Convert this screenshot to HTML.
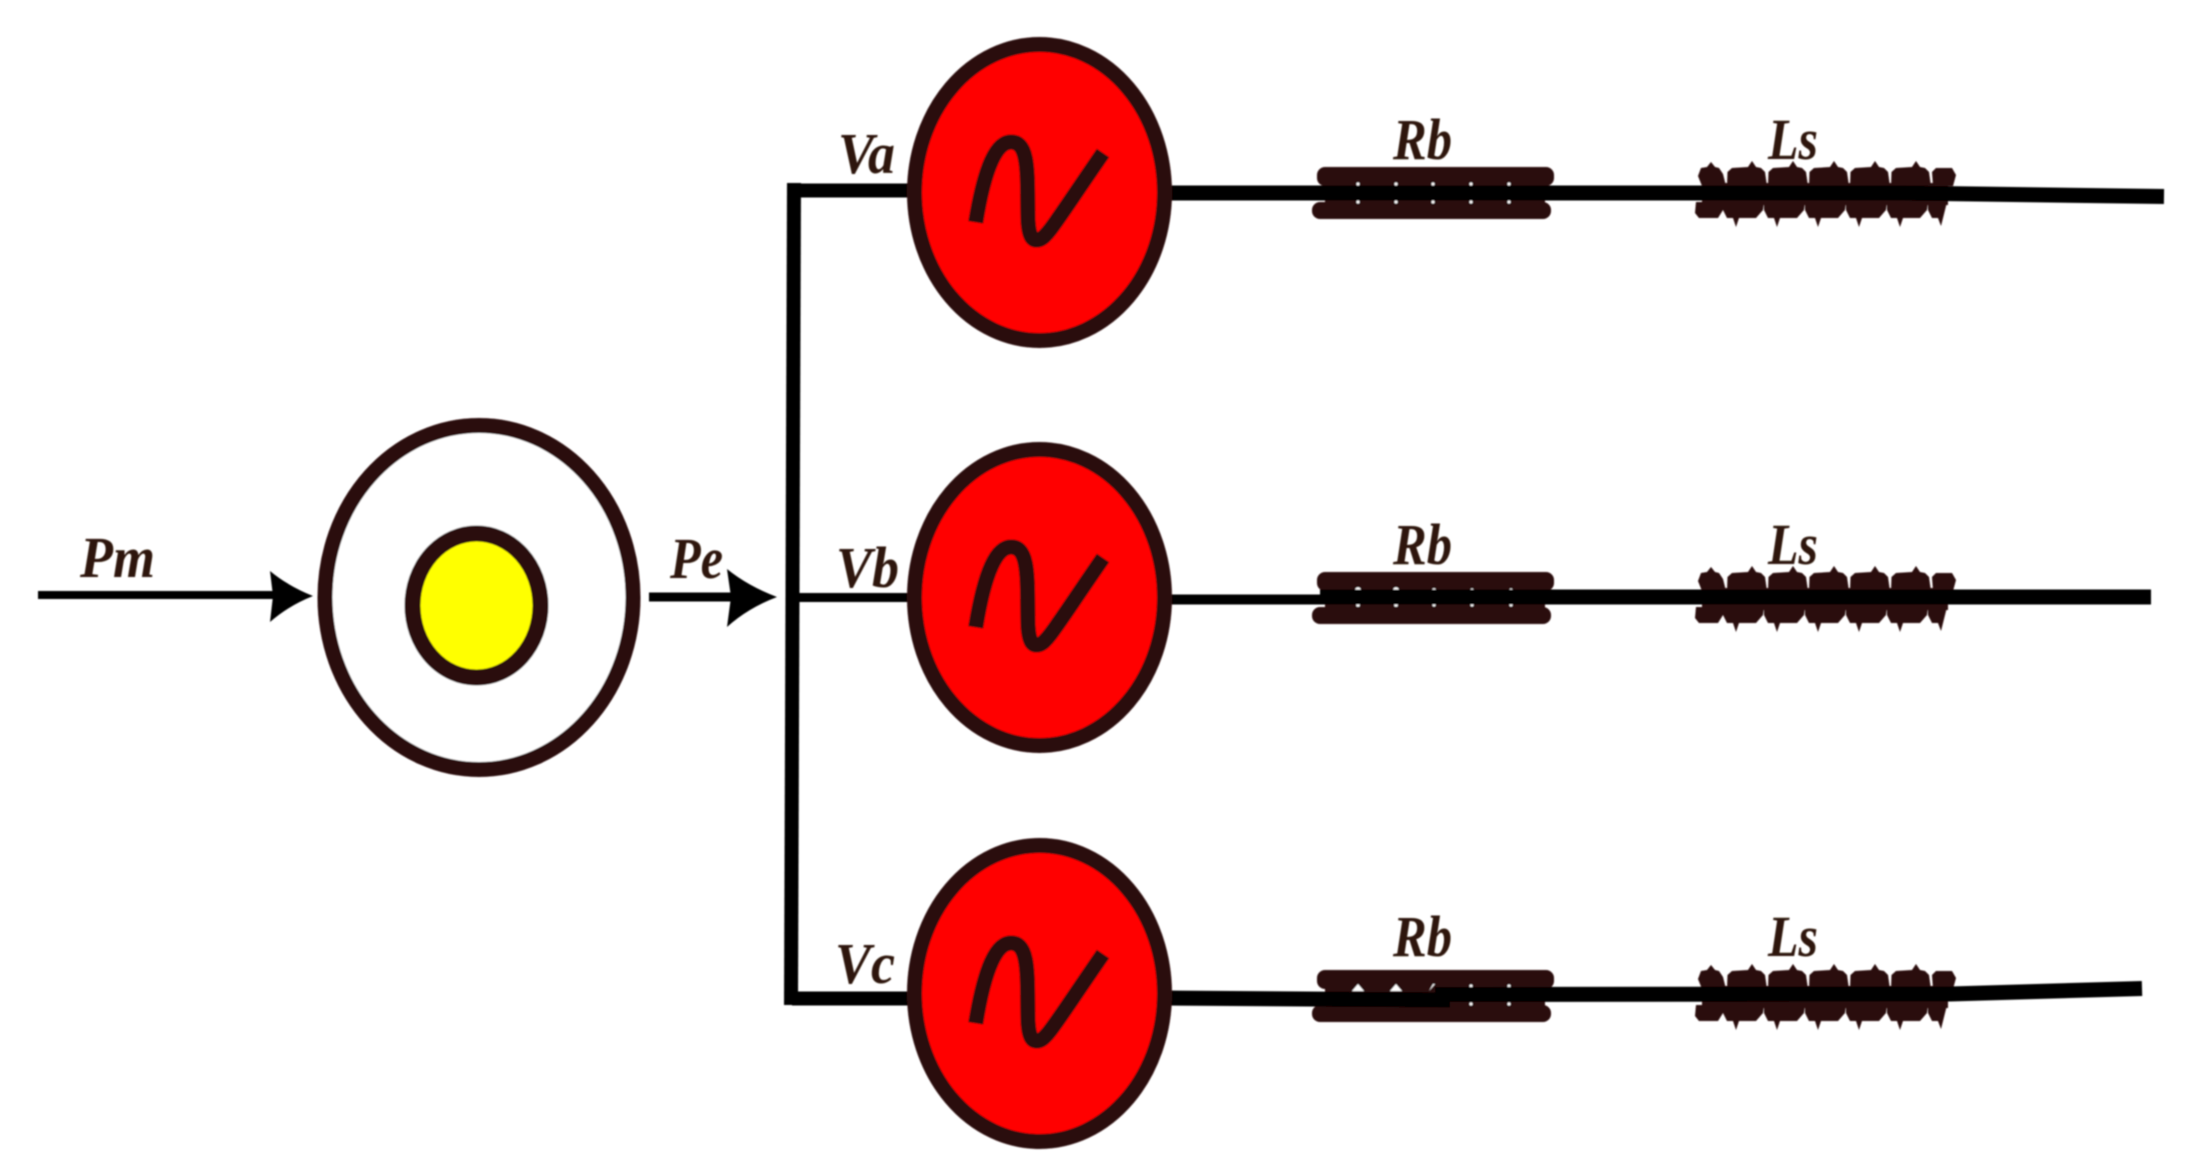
<!DOCTYPE html>
<html>
<head>
<meta charset="utf-8">
<style>
html,body{margin:0;padding:0;background:#fff;width:2207px;height:1171px;overflow:hidden}
svg{display:block}
text{font-family:"Liberation Serif",serif;font-style:italic;font-weight:bold;font-size:58px;fill:#2e1208}
</style>
</head>
<body>
<svg width="2207" height="1171" viewBox="0 0 2207 1171" xmlns="http://www.w3.org/2000/svg">
<defs>
<filter id="b" x="-2%" y="-2%" width="104%" height="104%"><feGaussianBlur stdDeviation="0.8"/></filter>
<polygon id="it" points="-25,186 -24.5,172 -20,168 -4,167 0,161 4,167 9,168 13,172 15,186"/>
<polygon id="ib" points="-13,202 -13,210 -9,218 -3,218 0,227 3,218 20,218 27,210 28,202"/>
<g id="res" fill="#2a0a0a">
<rect x="1317" y="167" width="237" height="19" rx="8"/>
<rect x="1312" y="202" width="239" height="17" rx="8"/>
<rect x="1325" y="184" width="220" height="20"/>
</g>
<g id="ind" fill="#2a0a0a">
<rect x="1702" y="183" width="246" height="22"/>
<polygon points="1702,186 1698,176 1701,168 1707,167 1711,162 1715,167 1719,168 1723,174 1726,186"/>
<use href="#it" x="1752"/><use href="#it" x="1793"/><use href="#it" x="1834"/><use href="#it" x="1875"/><use href="#it" x="1916"/>
<polygon points="1933,186 1932,172 1936,168 1952,168 1956,175 1953,186"/>
<polygon points="1696,202 1695,213 1699,218 1718,218 1723,210 1723,202"/>
<use href="#ib" x="1736"/><use href="#ib" x="1777"/><use href="#ib" x="1818"/><use href="#ib" x="1859"/><use href="#ib" x="1900"/>
<polygon points="1928,202 1928,210 1932,218 1938,218 1941,226 1945,210 1947,202"/>
</g>
<g id="gen">
<ellipse cx="1039.5" cy="192.5" rx="125" ry="148" fill="#ff0000" stroke="#2a0a0a" stroke-width="15"/>
<path d="M975.7 222.3 C985 165 997 142 1011 142 C1030 142 1027 175 1028 220 C1029 238 1033 240 1037 240 C1046 240 1054 224 1103 153" fill="none" stroke="#2a0a0a" stroke-width="15"/>
</g>
</defs>
<rect width="2207" height="1171" fill="#fff"/>
<g filter="url(#b)">
<!-- resistors and inductors -->
<use href="#res"/><use href="#ind"/>
<use href="#res" y="405"/><use href="#ind" y="405"/>
<use href="#res" y="803"/><use href="#ind" y="803"/>

<!-- resistor gaps -->
<g fill="#fff">
<circle cx="1358" cy="184" r="1.5"/><circle cx="1396" cy="184" r="1.5"/><circle cx="1433" cy="184" r="1.5"/><circle cx="1471" cy="184" r="1.5"/><circle cx="1509" cy="184" r="1.5"/>
<circle cx="1358" cy="202" r="1.5"/><circle cx="1396" cy="202" r="1.5"/><circle cx="1433" cy="202" r="1.5"/><circle cx="1471" cy="202" r="1.5"/><circle cx="1509" cy="202" r="1.5"/>
<circle cx="1358" cy="590" r="2.8"/><circle cx="1396" cy="590" r="2.8"/><circle cx="1434" cy="590" r="1.8"/><circle cx="1472" cy="590" r="1.5"/><circle cx="1511" cy="590" r="1.5"/>
<circle cx="1358" cy="605" r="1.8"/><circle cx="1396" cy="605" r="1.8"/><circle cx="1434" cy="605" r="1.5"/><circle cx="1472" cy="605" r="1.5"/><circle cx="1511" cy="605" r="1.5"/>
<polygon points="1352,991 1358,984 1364,991"/><polygon points="1390,991 1396,984 1402,991"/><polygon points="1429,991 1433,984 1435,984"/>
<circle cx="1471" cy="986" r="1.5"/><circle cx="1509" cy="986" r="1.5"/><circle cx="1471" cy="1004" r="1.5"/><circle cx="1509" cy="1004" r="1.5"/>
</g>

<!-- wires -->
<g fill="none" stroke="#000">
<path d="M794 183 L791 1005" stroke-width="14"/>
<path d="M792 190.5 H915" stroke-width="14"/>
<path d="M792 998.5 H915" stroke-width="14"/>
<path d="M797 597.5 H915" stroke-width="9"/>
<path d="M1165 193 L1900 193 L2164 196.5" stroke-width="15"/>
<path d="M1165 599.5 H1330" stroke-width="10"/>
<path d="M1320 597 H2151" stroke-width="15"/>
<path d="M1165 998 L1450 1000" stroke-width="15"/>
<path d="M1435 994.5 L1950 994 L2142 988.5" stroke-width="15"/>
<path d="M38 595 H280" stroke-width="8"/>
<path d="M649 597 H740" stroke-width="9"/>
</g>
<path d="M313 596 Q288 586 270 571 L273 596 L270 622 Q288 606 313 596 Z" fill="#000"/>
<path d="M777 597 Q748 586 727 569 L731 597 L727 627 Q748 608 777 597 Z" fill="#000"/>

<!-- machine -->
<ellipse cx="479" cy="597.5" rx="154" ry="172" fill="#fff" stroke="#2a0a0a" stroke-width="15"/>
<ellipse cx="476.5" cy="605.5" rx="64" ry="72" fill="#ffff00" stroke="#2a0a0a" stroke-width="16"/>

<!-- generators -->
<use href="#gen"/><use href="#gen" y="405"/><use href="#gen" y="801"/>

<!-- labels -->
<text x="80" y="577" textLength="75" lengthAdjust="spacingAndGlyphs">Pm</text>
<text x="670" y="578" textLength="53" lengthAdjust="spacingAndGlyphs">Pe</text>
<text x="838" y="173" textLength="57" lengthAdjust="spacingAndGlyphs">Va</text>
<text x="836" y="587" textLength="63" lengthAdjust="spacingAndGlyphs">Vb</text>
<text x="835" y="983" textLength="60" lengthAdjust="spacingAndGlyphs">Vc</text>
<text x="1393" y="159" textLength="59" lengthAdjust="spacingAndGlyphs">Rb</text>
<text x="1768" y="159" textLength="50" lengthAdjust="spacingAndGlyphs">Ls</text>
<text x="1393" y="564" textLength="59" lengthAdjust="spacingAndGlyphs">Rb</text>
<text x="1768" y="564" textLength="50" lengthAdjust="spacingAndGlyphs">Ls</text>
<text x="1393" y="956" textLength="59" lengthAdjust="spacingAndGlyphs">Rb</text>
<text x="1768" y="956" textLength="50" lengthAdjust="spacingAndGlyphs">Ls</text>
</g>
</svg>
</body>
</html>
